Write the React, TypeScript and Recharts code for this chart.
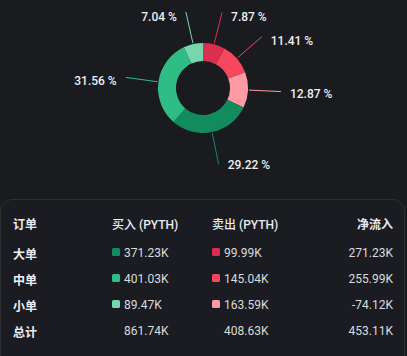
import React from 'react';
import { PieChart, Pie, Cell } from 'recharts';

// order rows: 大单 / 中单 / 小单
const rowNames = ['大单', '中单', '小单'];
const buyValues = [371.23, 401.03, 89.47];
const sellValues = [99.99, 145.04, 163.59];
const netValues = ['271.23K', '255.99K', '-74.12K'];
const totals = ['861.74K', '408.63K', '453.11K'];
const headers = ['订单', '买入 (PYTH)', '卖出 (PYTH)', '净流入'];

const buyColors = ['#128c5e', '#2ebd85', '#76d7ae'];
const sellColors = ['#dc2f4f', '#f5475e', '#ff9aa2'];

const BG = '#1a1b1f';
const FONT = "Roboto, 'Noto Sans CJK SC', sans-serif";

// pie goes clockwise from 12 o'clock: sells first, then buys
const pieData = [
  ...sellValues.map((v, i) => ({ name: 'sell' + i, value: v, color: sellColors[i] })),
  ...buyValues.map((v, i) => ({ name: 'buy' + i, value: v, color: buyColors[i] })),
];

const RADIAN = Math.PI / 180;

const renderLabel = (props: any) => {
  const { cx, cy, midAngle, outerRadius, percent, payload } = props;
  const cos = Math.cos(-midAngle * RADIAN);
  const sin = Math.sin(-midAngle * RADIAN);
  const sx = cx + (outerRadius + 1) * cos;
  const sy = cy + (outerRadius + 1) * sin;
  const ex = cx + (outerRadius + 33) * cos;
  const ey = cy + (outerRadius + 33) * sin;
  const right = cos >= 0;
  // labels are truncated, not rounded
  const pct = (Math.floor(percent * 10000) / 100).toFixed(2);
  return (
    <g>
      <line x1={sx} y1={sy} x2={ex} y2={ey} stroke={payload.color} strokeWidth={1} />
      <text
        x={ex + (right ? 9 : -9)}
        y={ey + 3 - 2 * sin}
        textAnchor={right ? 'start' : 'end'}
        dominantBaseline="central"
        fill="#eeeff1"
        fontSize={12}
        fontWeight={500}
        fontFamily={FONT}
      >
        {pct} %
      </text>
    </g>
  );
};

const Swatch = ({ color }: { color?: string }) => (
  <span
    style={{
      display: 'inline-block',
      width: 8,
      height: 8,
      borderRadius: 1.5,
      background: color || 'transparent',
      marginRight: 4,
      verticalAlign: 'middle',
      position: 'relative',
      top: -1,
    }}
  />
);

const cell: React.CSSProperties = { height: 26, display: 'flex', alignItems: 'center' };

export default function App() {
  return (
    <div
      style={{
        position: 'fixed',
        left: 0,
        top: 0,
        width: 407,
        height: 356,
        background: BG,
        overflow: 'hidden',
        fontFamily: FONT,
      }}
    >
      <PieChart width={407} height={190} margin={{ top: 0, right: 0, bottom: 0, left: 0 }}>
        <Pie
          data={pieData}
          dataKey="value"
          cx={203}
          cy={88}
          innerRadius={27}
          outerRadius={45}
          startAngle={90}
          endAngle={-270}
          stroke="none"
          label={renderLabel}
          labelLine={false}
          isAnimationActive={false}
        >
          {pieData.map((d) => (
            <Cell key={d.name} fill={d.color} />
          ))}
        </Pie>
      </PieChart>

      <div
        style={{
          position: 'absolute',
          left: 0,
          top: 199,
          width: 405,
          height: 180,
          border: '1px solid #2e3036',
          borderRadius: 12,
          background: '#1b1c21',
          boxSizing: 'border-box',
          padding: '6px 11px 0 12px',
          fontSize: 12,
          color: '#dadbdd',
        }}
      >
        <div style={{ display: 'grid', gridTemplateColumns: '99px 100px 1fr auto' }}>
          {headers.map((h, i) => (
            <div
              key={h}
              style={{
                ...cell,
                height: 34,
                justifyContent: i === 3 ? 'flex-end' : 'flex-start',
                color: '#eaecef',
                fontWeight: i === 0 || i === 3 ? 700 : 500,
              }}
            >
              {h}
            </div>
          ))}
          {rowNames.map((n, i) => (
            <React.Fragment key={n}>
              <div style={{ ...cell, fontWeight: 700, color: '#eef0f2' }}>{n}</div>
              <div style={cell}>
                <Swatch color={buyColors[i]} />
                {buyValues[i].toFixed(2)}K
              </div>
              <div style={cell}>
                <Swatch color={sellColors[i]} />
                {sellValues[i].toFixed(2)}K
              </div>
              <div style={{ ...cell, justifyContent: 'flex-end' }}>{netValues[i]}</div>
            </React.Fragment>
          ))}
          <div style={{ ...cell, fontWeight: 700, color: '#eef0f2' }}>总计</div>
          <div style={cell}>
            <Swatch />
            {totals[0]}
          </div>
          <div style={cell}>
            <Swatch />
            {totals[1]}
          </div>
          <div style={{ ...cell, justifyContent: 'flex-end' }}>{totals[2]}</div>
        </div>
      </div>
    </div>
  );
}
